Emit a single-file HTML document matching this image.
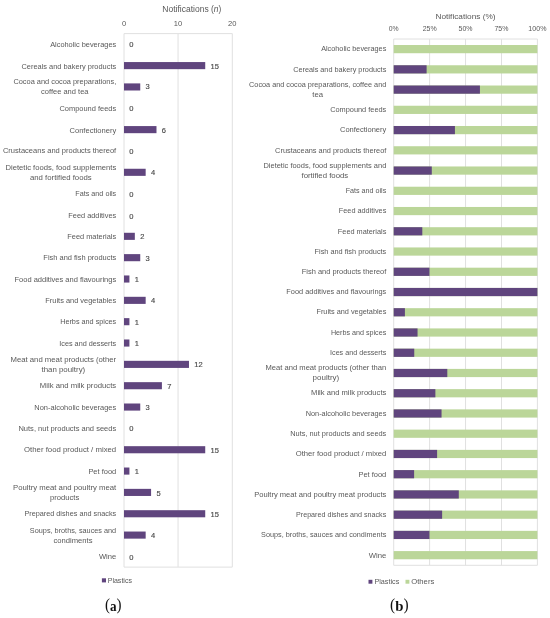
<!DOCTYPE html>
<html lang="en">
<head>
<meta charset="utf-8">
<title>Notifications by product category</title>
<style>
html,body{margin:0;padding:0;background:#fff;}
body{width:550px;height:618px;overflow:hidden;}
svg{display:block;font-family:"Liberation Sans","DejaVu Sans",sans-serif;}
</style>
</head>
<body>
<svg width="550" height="618" viewBox="0 0 550 618">
<rect width="550" height="618" fill="#ffffff"/>
<g id="chart-a">
<line x1="124.00" y1="33.60" x2="124.00" y2="567.10" stroke="#e0e0e0" stroke-width="1"/>
<line x1="178.05" y1="33.60" x2="178.05" y2="567.10" stroke="#e0e0e0" stroke-width="1"/>
<line x1="232.30" y1="33.60" x2="232.30" y2="567.10" stroke="#e0e0e0" stroke-width="1"/>
<line x1="124.00" y1="33.60" x2="232.30" y2="33.60" stroke="#e0e0e0" stroke-width="1"/>
<line x1="124.00" y1="567.10" x2="232.30" y2="567.10" stroke="#e0e0e0" stroke-width="1"/>
<text y="12.0" font-size="8.16" fill="#595959"><tspan x="162.30" textLength="51.58" lengthAdjust="spacingAndGlyphs">Notifications (</tspan><tspan x="213.88" font-style="italic" textLength="4.67" lengthAdjust="spacingAndGlyphs">n</tspan><tspan x="218.55" textLength="2.76" lengthAdjust="spacingAndGlyphs">)</tspan></text>
<text x="121.90" y="25.60" font-size="7.44" textLength="4.20" lengthAdjust="spacingAndGlyphs" fill="#595959">0</text>
<text x="173.85" y="25.60" font-size="7.44" textLength="8.40" lengthAdjust="spacingAndGlyphs" fill="#595959">10</text>
<text x="228.10" y="25.60" font-size="7.44" textLength="8.40" lengthAdjust="spacingAndGlyphs" fill="#595959">20</text>
<text x="50.16" y="46.77" font-size="7.44" textLength="66.04" lengthAdjust="spacingAndGlyphs" fill="#595959">Alcoholic beverages</text>
<text x="129.30" y="47.37" font-size="8.04" textLength="4.20" lengthAdjust="spacingAndGlyphs" fill="#484848" stroke="#484848" stroke-width="0.15">0</text>
<text x="21.47" y="68.71" font-size="7.44" textLength="94.73" lengthAdjust="spacingAndGlyphs" fill="#595959">Cereals and bakery products</text>
<rect x="124.00" y="62.06" width="81.23" height="7.10" fill="#60457e"/>
<text x="210.53" y="69.31" font-size="8.04" textLength="8.40" lengthAdjust="spacingAndGlyphs" fill="#484848" stroke="#484848" stroke-width="0.15">15</text>
<text x="13.38" y="83.88" font-size="7.44" textLength="102.82" lengthAdjust="spacingAndGlyphs" fill="#595959">Cocoa and cocoa preparations,</text>
<text x="41.09" y="93.82" font-size="7.44" textLength="47.40" lengthAdjust="spacingAndGlyphs" fill="#595959">coffee and tea</text>
<rect x="124.00" y="83.40" width="16.25" height="7.10" fill="#60457e"/>
<text x="145.55" y="89.45" font-size="8.04" textLength="4.20" lengthAdjust="spacingAndGlyphs" fill="#484848" stroke="#484848" stroke-width="0.15">3</text>
<text x="59.45" y="110.79" font-size="7.44" textLength="56.75" lengthAdjust="spacingAndGlyphs" fill="#595959">Compound feeds</text>
<text x="129.30" y="111.39" font-size="8.04" textLength="4.20" lengthAdjust="spacingAndGlyphs" fill="#484848" stroke="#484848" stroke-width="0.15">0</text>
<text x="69.49" y="132.73" font-size="7.44" textLength="46.71" lengthAdjust="spacingAndGlyphs" fill="#595959">Confectionery</text>
<rect x="124.00" y="126.08" width="32.49" height="7.10" fill="#60457e"/>
<text x="161.79" y="133.33" font-size="8.04" textLength="4.20" lengthAdjust="spacingAndGlyphs" fill="#484848" stroke="#484848" stroke-width="0.15">6</text>
<text x="2.95" y="153.47" font-size="7.44" textLength="113.25" lengthAdjust="spacingAndGlyphs" fill="#595959">Crustaceans and products thereof</text>
<text x="129.30" y="154.07" font-size="8.04" textLength="4.20" lengthAdjust="spacingAndGlyphs" fill="#484848" stroke="#484848" stroke-width="0.15">0</text>
<text x="5.50" y="169.84" font-size="7.44" textLength="110.70" lengthAdjust="spacingAndGlyphs" fill="#595959">Dietetic foods, food supplements</text>
<text x="29.98" y="179.78" font-size="7.44" textLength="61.73" lengthAdjust="spacingAndGlyphs" fill="#595959">and fortified foods</text>
<rect x="124.00" y="168.76" width="21.66" height="7.10" fill="#60457e"/>
<text x="150.96" y="175.41" font-size="8.04" textLength="4.20" lengthAdjust="spacingAndGlyphs" fill="#484848" stroke="#484848" stroke-width="0.15">4</text>
<text x="75.35" y="196.15" font-size="7.44" textLength="40.85" lengthAdjust="spacingAndGlyphs" fill="#595959">Fats and oils</text>
<text x="129.30" y="196.75" font-size="8.04" textLength="4.20" lengthAdjust="spacingAndGlyphs" fill="#484848" stroke="#484848" stroke-width="0.15">0</text>
<text x="68.30" y="218.09" font-size="7.44" textLength="47.90" lengthAdjust="spacingAndGlyphs" fill="#595959">Feed additives</text>
<text x="129.30" y="218.69" font-size="8.04" textLength="4.20" lengthAdjust="spacingAndGlyphs" fill="#484848" stroke="#484848" stroke-width="0.15">0</text>
<text x="67.30" y="238.83" font-size="7.44" textLength="48.90" lengthAdjust="spacingAndGlyphs" fill="#595959">Feed materials</text>
<rect x="124.00" y="232.78" width="10.83" height="7.10" fill="#60457e"/>
<text x="140.13" y="239.43" font-size="8.04" textLength="4.20" lengthAdjust="spacingAndGlyphs" fill="#484848" stroke="#484848" stroke-width="0.15">2</text>
<text x="43.38" y="260.17" font-size="7.44" textLength="72.82" lengthAdjust="spacingAndGlyphs" fill="#595959">Fish and fish products</text>
<rect x="124.00" y="254.12" width="16.25" height="7.10" fill="#60457e"/>
<text x="145.55" y="260.77" font-size="8.04" textLength="4.20" lengthAdjust="spacingAndGlyphs" fill="#484848" stroke="#484848" stroke-width="0.15">3</text>
<text x="14.46" y="281.51" font-size="7.44" textLength="101.74" lengthAdjust="spacingAndGlyphs" fill="#595959">Food additives and flavourings</text>
<rect x="124.00" y="275.46" width="5.42" height="7.10" fill="#60457e"/>
<text x="134.72" y="282.11" font-size="8.04" textLength="4.20" lengthAdjust="spacingAndGlyphs" fill="#484848" stroke="#484848" stroke-width="0.15">1</text>
<text x="45.32" y="302.85" font-size="7.44" textLength="70.88" lengthAdjust="spacingAndGlyphs" fill="#595959">Fruits and vegetables</text>
<rect x="124.00" y="296.80" width="21.66" height="7.10" fill="#60457e"/>
<text x="150.96" y="303.45" font-size="8.04" textLength="4.20" lengthAdjust="spacingAndGlyphs" fill="#484848" stroke="#484848" stroke-width="0.15">4</text>
<text x="60.16" y="324.19" font-size="7.44" textLength="56.04" lengthAdjust="spacingAndGlyphs" fill="#595959">Herbs and spices</text>
<rect x="124.00" y="318.14" width="5.42" height="7.10" fill="#60457e"/>
<text x="134.72" y="324.79" font-size="8.04" textLength="4.20" lengthAdjust="spacingAndGlyphs" fill="#484848" stroke="#484848" stroke-width="0.15">1</text>
<text x="59.31" y="345.53" font-size="7.44" textLength="56.89" lengthAdjust="spacingAndGlyphs" fill="#595959">Ices and desserts</text>
<rect x="124.00" y="339.48" width="5.42" height="7.10" fill="#60457e"/>
<text x="134.72" y="346.13" font-size="8.04" textLength="4.20" lengthAdjust="spacingAndGlyphs" fill="#484848" stroke="#484848" stroke-width="0.15">1</text>
<text x="10.47" y="361.90" font-size="7.44" textLength="105.73" lengthAdjust="spacingAndGlyphs" fill="#595959">Meat and meat products (other</text>
<text x="41.44" y="371.84" font-size="7.44" textLength="43.79" lengthAdjust="spacingAndGlyphs" fill="#595959">than poultry)</text>
<rect x="124.00" y="360.82" width="64.98" height="7.10" fill="#60457e"/>
<text x="194.28" y="367.47" font-size="8.04" textLength="8.40" lengthAdjust="spacingAndGlyphs" fill="#484848" stroke="#484848" stroke-width="0.15">12</text>
<text x="39.82" y="388.21" font-size="7.44" textLength="76.38" lengthAdjust="spacingAndGlyphs" fill="#595959">Milk and milk products</text>
<rect x="124.00" y="382.16" width="37.91" height="7.10" fill="#60457e"/>
<text x="167.21" y="388.81" font-size="8.04" textLength="4.20" lengthAdjust="spacingAndGlyphs" fill="#484848" stroke="#484848" stroke-width="0.15">7</text>
<text x="34.37" y="409.55" font-size="7.44" textLength="81.83" lengthAdjust="spacingAndGlyphs" fill="#595959">Non-alcoholic beverages</text>
<rect x="124.00" y="403.50" width="16.25" height="7.10" fill="#60457e"/>
<text x="145.55" y="410.15" font-size="8.04" textLength="4.20" lengthAdjust="spacingAndGlyphs" fill="#484848" stroke="#484848" stroke-width="0.15">3</text>
<text x="18.43" y="430.89" font-size="7.44" textLength="97.77" lengthAdjust="spacingAndGlyphs" fill="#595959">Nuts, nut products and seeds</text>
<text x="129.30" y="431.49" font-size="8.04" textLength="4.20" lengthAdjust="spacingAndGlyphs" fill="#484848" stroke="#484848" stroke-width="0.15">0</text>
<text x="24.06" y="452.23" font-size="7.44" textLength="92.14" lengthAdjust="spacingAndGlyphs" fill="#595959">Other food product / mixed</text>
<rect x="124.00" y="446.18" width="81.23" height="7.10" fill="#60457e"/>
<text x="210.53" y="452.83" font-size="8.04" textLength="8.40" lengthAdjust="spacingAndGlyphs" fill="#484848" stroke="#484848" stroke-width="0.15">15</text>
<text x="88.40" y="473.57" font-size="7.44" textLength="27.80" lengthAdjust="spacingAndGlyphs" fill="#595959">Pet food</text>
<rect x="124.00" y="467.52" width="5.42" height="7.10" fill="#60457e"/>
<text x="134.72" y="474.17" font-size="8.04" textLength="4.20" lengthAdjust="spacingAndGlyphs" fill="#484848" stroke="#484848" stroke-width="0.15">1</text>
<text x="13.03" y="489.94" font-size="7.44" textLength="103.17" lengthAdjust="spacingAndGlyphs" fill="#595959">Poultry meat and poultry meat</text>
<text x="50.01" y="499.88" font-size="7.44" textLength="29.22" lengthAdjust="spacingAndGlyphs" fill="#595959">products</text>
<rect x="124.00" y="488.86" width="27.08" height="7.10" fill="#60457e"/>
<text x="156.38" y="495.51" font-size="8.04" textLength="4.20" lengthAdjust="spacingAndGlyphs" fill="#484848" stroke="#484848" stroke-width="0.15">5</text>
<text x="24.39" y="516.25" font-size="7.44" textLength="91.81" lengthAdjust="spacingAndGlyphs" fill="#595959">Prepared dishes and snacks</text>
<rect x="124.00" y="510.20" width="81.23" height="7.10" fill="#60457e"/>
<text x="210.53" y="516.85" font-size="8.04" textLength="8.40" lengthAdjust="spacingAndGlyphs" fill="#484848" stroke="#484848" stroke-width="0.15">15</text>
<text x="29.87" y="532.62" font-size="7.44" textLength="86.33" lengthAdjust="spacingAndGlyphs" fill="#595959">Soups, broths, sauces and</text>
<text x="53.55" y="542.56" font-size="7.44" textLength="38.97" lengthAdjust="spacingAndGlyphs" fill="#595959">condiments</text>
<rect x="124.00" y="531.54" width="21.66" height="7.10" fill="#60457e"/>
<text x="150.96" y="538.19" font-size="8.04" textLength="4.20" lengthAdjust="spacingAndGlyphs" fill="#484848" stroke="#484848" stroke-width="0.15">4</text>
<text x="98.94" y="558.93" font-size="7.44" textLength="17.26" lengthAdjust="spacingAndGlyphs" fill="#595959">Wine</text>
<text x="129.30" y="559.53" font-size="8.04" textLength="4.20" lengthAdjust="spacingAndGlyphs" fill="#484848" stroke="#484848" stroke-width="0.15">0</text>
<rect x="101.90" y="578.30" width="4.10" height="4.10" fill="#60457e"/>
<text x="107.70" y="582.80" font-size="7.44" textLength="24.27" lengthAdjust="spacingAndGlyphs" fill="#595959">Plastics</text>
</g>
<g id="chart-b">
<line x1="393.70" y1="39.00" x2="393.70" y2="565.30" stroke="#e0e0e0" stroke-width="1"/>
<line x1="429.62" y1="39.00" x2="429.62" y2="565.30" stroke="#e0e0e0" stroke-width="1"/>
<line x1="465.55" y1="39.00" x2="465.55" y2="565.30" stroke="#e0e0e0" stroke-width="1"/>
<line x1="501.47" y1="39.00" x2="501.47" y2="565.30" stroke="#e0e0e0" stroke-width="1"/>
<line x1="537.40" y1="39.00" x2="537.40" y2="565.30" stroke="#e0e0e0" stroke-width="1"/>
<line x1="393.70" y1="39.00" x2="537.40" y2="39.00" stroke="#e0e0e0" stroke-width="1"/>
<line x1="393.70" y1="565.30" x2="537.40" y2="565.30" stroke="#e0e0e0" stroke-width="1"/>
<text x="435.44" y="19.00" font-size="8.05" textLength="60.03" lengthAdjust="spacingAndGlyphs" fill="#595959">Notifications (%)</text>
<text x="388.76" y="31.20" font-size="7.25" textLength="9.87" lengthAdjust="spacingAndGlyphs" fill="#595959">0%</text>
<text x="422.64" y="31.20" font-size="7.25" textLength="13.97" lengthAdjust="spacingAndGlyphs" fill="#595959">25%</text>
<text x="458.57" y="31.20" font-size="7.25" textLength="13.97" lengthAdjust="spacingAndGlyphs" fill="#595959">50%</text>
<text x="494.49" y="31.20" font-size="7.25" textLength="13.97" lengthAdjust="spacingAndGlyphs" fill="#595959">75%</text>
<text x="528.37" y="31.20" font-size="7.25" textLength="18.06" lengthAdjust="spacingAndGlyphs" fill="#595959">100%</text>
<text x="321.15" y="51.32" font-size="7.25" textLength="65.15" lengthAdjust="spacingAndGlyphs" fill="#595959">Alcoholic beverages</text>
<rect x="393.70" y="45.02" width="143.70" height="8.20" fill="#bbd699"/>
<text x="293.19" y="71.56" font-size="7.25" textLength="93.11" lengthAdjust="spacingAndGlyphs" fill="#595959">Cereals and bakery products</text>
<rect x="393.70" y="65.26" width="143.70" height="8.20" fill="#bbd699"/>
<rect x="393.70" y="65.26" width="32.91" height="8.20" fill="#60457e"/>
<text x="249.12" y="86.76" font-size="7.25" textLength="137.18" lengthAdjust="spacingAndGlyphs" fill="#595959">Cocoa and cocoa preparations, coffee and</text>
<text x="312.30" y="96.86" font-size="7.25" textLength="10.81" lengthAdjust="spacingAndGlyphs" fill="#595959">tea</text>
<rect x="393.70" y="85.51" width="143.70" height="8.20" fill="#bbd699"/>
<rect x="393.70" y="85.51" width="86.22" height="8.20" fill="#60457e"/>
<text x="330.20" y="112.05" font-size="7.25" textLength="56.10" lengthAdjust="spacingAndGlyphs" fill="#595959">Compound feeds</text>
<rect x="393.70" y="105.75" width="143.70" height="8.20" fill="#bbd699"/>
<text x="339.99" y="132.29" font-size="7.25" textLength="46.31" lengthAdjust="spacingAndGlyphs" fill="#595959">Confectionery</text>
<rect x="393.70" y="125.99" width="143.70" height="8.20" fill="#bbd699"/>
<rect x="393.70" y="125.99" width="61.22" height="8.20" fill="#60457e"/>
<text x="275.13" y="152.53" font-size="7.25" textLength="111.17" lengthAdjust="spacingAndGlyphs" fill="#595959">Crustaceans and products thereof</text>
<rect x="393.70" y="146.23" width="143.70" height="8.20" fill="#bbd699"/>
<text x="263.43" y="167.72" font-size="7.25" textLength="122.87" lengthAdjust="spacingAndGlyphs" fill="#595959">Dietetic foods, food supplements and</text>
<text x="301.48" y="177.82" font-size="7.25" textLength="46.77" lengthAdjust="spacingAndGlyphs" fill="#595959">fortified foods</text>
<rect x="393.70" y="166.47" width="143.70" height="8.20" fill="#bbd699"/>
<rect x="393.70" y="166.47" width="38.08" height="8.20" fill="#60457e"/>
<text x="345.70" y="193.02" font-size="7.25" textLength="40.60" lengthAdjust="spacingAndGlyphs" fill="#595959">Fats and oils</text>
<rect x="393.70" y="186.72" width="143.70" height="8.20" fill="#bbd699"/>
<text x="338.83" y="213.26" font-size="7.25" textLength="47.47" lengthAdjust="spacingAndGlyphs" fill="#595959">Feed additives</text>
<rect x="393.70" y="206.96" width="143.70" height="8.20" fill="#bbd699"/>
<text x="337.85" y="233.50" font-size="7.25" textLength="48.45" lengthAdjust="spacingAndGlyphs" fill="#595959">Feed materials</text>
<rect x="393.70" y="227.20" width="143.70" height="8.20" fill="#bbd699"/>
<rect x="393.70" y="227.20" width="28.60" height="8.20" fill="#60457e"/>
<text x="314.54" y="253.74" font-size="7.25" textLength="71.76" lengthAdjust="spacingAndGlyphs" fill="#595959">Fish and fish products</text>
<rect x="393.70" y="247.44" width="143.70" height="8.20" fill="#bbd699"/>
<text x="301.79" y="273.99" font-size="7.25" textLength="84.51" lengthAdjust="spacingAndGlyphs" fill="#595959">Fish and products thereof</text>
<rect x="393.70" y="267.69" width="143.70" height="8.20" fill="#bbd699"/>
<rect x="393.70" y="267.69" width="35.78" height="8.20" fill="#60457e"/>
<text x="286.35" y="293.73" font-size="7.25" textLength="99.95" lengthAdjust="spacingAndGlyphs" fill="#595959">Food additives and flavourings</text>
<rect x="393.70" y="287.93" width="143.70" height="8.20" fill="#bbd699"/>
<rect x="393.70" y="287.93" width="143.70" height="8.20" fill="#60457e"/>
<text x="316.43" y="314.47" font-size="7.25" textLength="69.87" lengthAdjust="spacingAndGlyphs" fill="#595959">Fruits and vegetables</text>
<rect x="393.70" y="308.17" width="143.70" height="8.20" fill="#bbd699"/>
<rect x="393.70" y="308.17" width="11.21" height="8.20" fill="#60457e"/>
<text x="330.89" y="334.71" font-size="7.25" textLength="55.41" lengthAdjust="spacingAndGlyphs" fill="#595959">Herbs and spices</text>
<rect x="393.70" y="328.41" width="143.70" height="8.20" fill="#bbd699"/>
<rect x="393.70" y="328.41" width="23.85" height="8.20" fill="#60457e"/>
<text x="330.06" y="354.96" font-size="7.25" textLength="56.24" lengthAdjust="spacingAndGlyphs" fill="#595959">Ices and desserts</text>
<rect x="393.70" y="348.66" width="143.70" height="8.20" fill="#bbd699"/>
<rect x="393.70" y="348.66" width="20.55" height="8.20" fill="#60457e"/>
<text x="265.56" y="370.15" font-size="7.25" textLength="120.74" lengthAdjust="spacingAndGlyphs" fill="#595959">Meat and meat products (other than</text>
<text x="312.64" y="380.25" font-size="7.25" textLength="26.58" lengthAdjust="spacingAndGlyphs" fill="#595959">poultry)</text>
<rect x="393.70" y="368.90" width="143.70" height="8.20" fill="#bbd699"/>
<rect x="393.70" y="368.90" width="53.60" height="8.20" fill="#60457e"/>
<text x="311.07" y="395.44" font-size="7.25" textLength="75.23" lengthAdjust="spacingAndGlyphs" fill="#595959">Milk and milk products</text>
<rect x="393.70" y="389.14" width="143.70" height="8.20" fill="#bbd699"/>
<rect x="393.70" y="389.14" width="41.67" height="8.20" fill="#60457e"/>
<text x="305.76" y="415.68" font-size="7.25" textLength="80.54" lengthAdjust="spacingAndGlyphs" fill="#595959">Non-alcoholic beverages</text>
<rect x="393.70" y="409.38" width="143.70" height="8.20" fill="#bbd699"/>
<rect x="393.70" y="409.38" width="47.85" height="8.20" fill="#60457e"/>
<text x="290.22" y="435.92" font-size="7.25" textLength="96.08" lengthAdjust="spacingAndGlyphs" fill="#595959">Nuts, nut products and seeds</text>
<rect x="393.70" y="429.62" width="143.70" height="8.20" fill="#bbd699"/>
<text x="295.70" y="456.17" font-size="7.25" textLength="90.60" lengthAdjust="spacingAndGlyphs" fill="#595959">Other food product / mixed</text>
<rect x="393.70" y="449.87" width="143.70" height="8.20" fill="#bbd699"/>
<rect x="393.70" y="449.87" width="43.40" height="8.20" fill="#60457e"/>
<text x="358.41" y="476.81" font-size="7.25" textLength="27.89" lengthAdjust="spacingAndGlyphs" fill="#595959">Pet food</text>
<rect x="393.70" y="470.11" width="143.70" height="8.20" fill="#bbd699"/>
<rect x="393.70" y="470.11" width="20.41" height="8.20" fill="#60457e"/>
<text x="254.17" y="496.65" font-size="7.25" textLength="132.13" lengthAdjust="spacingAndGlyphs" fill="#595959">Poultry meat and poultry meat products</text>
<rect x="393.70" y="490.35" width="143.70" height="8.20" fill="#bbd699"/>
<rect x="393.70" y="490.35" width="65.10" height="8.20" fill="#60457e"/>
<text x="296.03" y="516.89" font-size="7.25" textLength="90.27" lengthAdjust="spacingAndGlyphs" fill="#595959">Prepared dishes and snacks</text>
<rect x="393.70" y="510.59" width="143.70" height="8.20" fill="#bbd699"/>
<rect x="393.70" y="510.59" width="48.43" height="8.20" fill="#60457e"/>
<text x="261.07" y="537.14" font-size="7.25" textLength="125.23" lengthAdjust="spacingAndGlyphs" fill="#595959">Soups, broths, sauces and condiments</text>
<rect x="393.70" y="530.84" width="143.70" height="8.20" fill="#bbd699"/>
<rect x="393.70" y="530.84" width="35.78" height="8.20" fill="#60457e"/>
<text x="368.69" y="557.98" font-size="7.25" textLength="17.61" lengthAdjust="spacingAndGlyphs" fill="#595959">Wine</text>
<rect x="393.70" y="551.08" width="143.70" height="8.20" fill="#bbd699"/>
<rect x="368.50" y="579.80" width="3.90" height="3.90" fill="#60457e"/>
<text x="374.40" y="584.10" font-size="7.25" textLength="24.85" lengthAdjust="spacingAndGlyphs" fill="#595959">Plastics</text>
<rect x="405.50" y="579.80" width="3.90" height="3.90" fill="#bbd699"/>
<text x="411.30" y="584.10" font-size="7.25" textLength="22.96" lengthAdjust="spacingAndGlyphs" fill="#595959">Others</text>
</g>
<text x="105.0" y="610.4" font-family="'Liberation Serif', 'DejaVu Serif', serif" font-size="16" fill="#111" textLength="16.6" lengthAdjust="spacingAndGlyphs">(<tspan font-weight="bold" font-size="14.0" dy="0.2">a</tspan><tspan dy="-0.2">)</tspan></text>
<text x="390.1" y="610.4" font-family="'Liberation Serif', 'DejaVu Serif', serif" font-size="16" fill="#111" textLength="18.5" lengthAdjust="spacingAndGlyphs">(<tspan font-weight="bold" font-size="15.3" dy="0.2">b</tspan><tspan dy="-0.2">)</tspan></text>
</svg>
</body>
</html>
